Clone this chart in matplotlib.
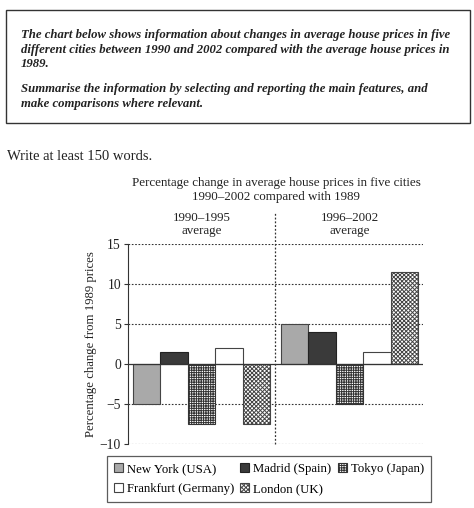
import matplotlib.pyplot as plt
import matplotlib.patches as mpatches

# data
cities = ['New York (USA)', 'Madrid (Spain)', 'Tokyo (Japan)', 'Frankfurt (Germany)', 'London (UK)']
periods = ['1990\u20131995\naverage', '1996\u20132002\naverage']
change_1990_1995 = [-5, 1.5, -7.5, 2, -7.5]
change_1996_2002 = [5, 4, -5, 1.5, 11.5]
yticks = [-10, -5, 0, 5, 10, 15]

plt.rcParams['font.family'] = ['Liberation Serif', 'DejaVu Serif']
plt.rcParams['hatch.linewidth'] = 0.7

faces = ['#a9a9a9', '#3a3a3a', 'white', 'white', 'white']
hatches = [None, None, '+++++++', None, 'xxxxxxxx']
hcolors = ['#444', '#222', '#333', '#444', '#444']

fig = plt.figure(figsize=(4.74, 5.08), dpi=100)

# task box at the top
fig.patches.append(mpatches.Rectangle((6 / 474, 1 - 123 / 508), 464 / 474, 113 / 508,
                                      transform=fig.transFigure, fill=False,
                                      edgecolor='#333', linewidth=1.0))
task1 = ('The chart below shows information about changes in average house prices in five\n'
         'different cities between 1990 and 2002 compared with the average house prices in\n'
         '1989.')
task2 = ('Summarise the information by selecting and reporting the main features, and\n'
         'make comparisons where relevant.')
fig.text(21 / 474, 1 - 29 / 508, task1, fontsize=9.2, fontweight='bold', fontstyle='italic',
         va='top', ha='left', linespacing=1.3, color='#222')
fig.text(21 / 474, 1 - 83 / 508, task2, fontsize=9.2, fontweight='bold', fontstyle='italic',
         va='top', ha='left', linespacing=1.3, color='#222')
fig.text(7 / 474, 1 - 157 / 508, 'Write at least 150 words.', fontsize=10.5, va='center',
         ha='left', color='#222')

# chart title
fig.text(276 / 474, 1 - 190 / 508,
         'Percentage change in average house prices in five cities\n1990\u20132002 compared with 1989',
         fontsize=9.4, ha='center', va='center', linespacing=1.3, color='#222')

ax = fig.add_axes([128 / 474, 1 - 444 / 508, 295 / 474, 200 / 508])

width = 1.0
x1 = [i for i in range(len(cities))]
x2 = [i + 5.38 for i in range(len(cities))]
bars = []
for i, city in enumerate(cities):
    for xs, vals in ((x1, change_1990_1995), (x2, change_1996_2002)):
        b = ax.bar(xs[i], vals[i], width, color=faces[i], edgecolor=hcolors[i],
                   hatch=hatches[i], linewidth=0.8, zorder=3)
    bars.append(b)

ax.set_xlim(-0.68, 10.05)
ax.set_ylim(-10, 15)
ax.set_yticks(yticks)
ax.set_yticklabels(['\u221210', '\u22125', '0', '5', '10', '15'], fontsize=9.8, color='#222')
ax.set_xticks([])
for t in [-10, -5, 5, 10, 15]:
    ax.axhline(t, color='#333', linestyle=(0, (1.5, 1.5)), linewidth=0.8, zorder=1)
ax.axhline(0, color='#333', linewidth=0.9, zorder=4)
ax.axvline(4.66, ymin=0, ymax=1.16, color='#333', linestyle=(0, (1.5, 1.5)),
           linewidth=0.9, clip_on=False)
for s in ['top', 'right', 'bottom']:
    ax.spines[s].set_visible(False)
ax.spines['left'].set_color('#333')
ax.tick_params(axis='y', length=3, width=0.8, color='#333', pad=2)
ax.set_ylabel('Percentage change from 1989 prices', fontsize=9.2, color='#222', labelpad=2)

# period labels above the groups
ax.text(2.0, 17.45, periods[0], ha='center', va='center', fontsize=9.4,
        linespacing=1.15, color='#222')
ax.text(7.38, 17.45, periods[1], ha='center', va='center', fontsize=9.4,
        linespacing=1.15, color='#222')

# legend, row-major order NY, Madrid, Tokyo / Frankfurt, London
order = [0, 3, 1, 4, 2]
leg = fig.legend([bars[i] for i in order], [cities[i] for i in order],
                 ncol=3, loc='lower left', bbox_to_anchor=(107 / 474, 1 - 502 / 508),
                 frameon=True, fancybox=False, edgecolor='#333', fontsize=9.2,
                 handlelength=0.7, handleheight=0.7, handletextpad=0.3,
                 columnspacing=0.5, labelspacing=0.6, borderpad=0.55, borderaxespad=0)
leg.get_frame().set_linewidth(0.9)

plt.savefig('out.png', dpi=100)
